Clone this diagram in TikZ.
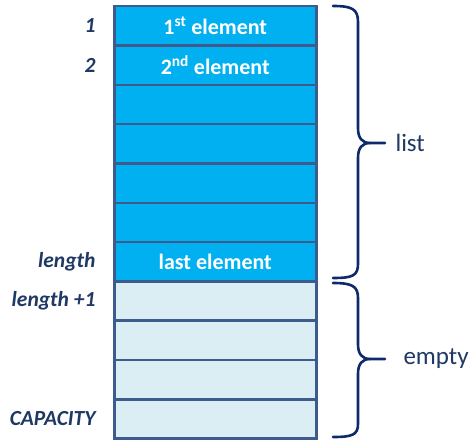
\documentclass[tikz,border=0pt]{standalone}
\usepackage{fontspec}
\setmainfont{Carlito}
\usetikzlibrary{positioning}
\definecolor{full}{HTML}{00B0F0}
\definecolor{free}{HTML}{DAEEF3}
\definecolor{edge}{HTML}{3D5B8C}
\definecolor{navy}{HTML}{1F3864}
\definecolor{bracecol}{HTML}{0E2A6A}

\begin{document}
\begin{tikzpicture}[x=1pt,y=-1pt,
  cell/.style={draw=edge,line width=2.5pt,minimum width=202pt,minimum height=39.3pt,
    anchor=north west,inner sep=0pt,text=white,font=\fontsize{22}{24}\selectfont\bfseries},
  idx/.style={anchor=east,text=navy,font=\fontsize{21.5}{24}\selectfont\bfseries\itshape},
  side/.style={anchor=west,text=navy,font=\fontsize{25}{28}\selectfont},
  brace/.style={draw=bracecol,line width=2.6pt,line cap=round}]
  \useasboundingbox (0,0) rectangle (474,444);
  % filled slots (the list)
  \foreach \i/\txt in {0/{1\textsuperscript{st}\ element},1/{2\textsuperscript{nd} element},2/{},3/{},4/{},5/{},6/{last element}}
    \node[cell,fill=full] (c\i) at (113,5+\i*39.3) {\txt};
  % free slots
  \foreach \i in {7,...,10}
    \node[cell,fill=free] (c\i) at (113,5+\i*39.3) {};
  % indices
  \node[idx,left=14pt of c0.west] (n1) {1};
  \node[idx,left=14pt of c1.west] (n2) {2};
  \node[idx,left=14pt of c6.west] (nlen) {length};
  \node[idx,left=14pt of c7.west] (nlen1) {length +1};
  \node[idx,left=14pt of c10.west] (ncap) {CAPACITY};
  % brace for the list
  \draw[brace] (333,6) .. controls (352,6) and (358,9) .. (358,22) -- (358,128)
    .. controls (358,138) and (362,143) .. (370,143) -- (385,143);
  \draw[brace] (370,143) .. controls (362,143) and (358,148) .. (358,158) -- (358,264)
    .. controls (358,276) and (352,278) .. (333,278);
  \node[side] (list) at (392,143) {list};
  % brace for the empty part
  \draw[brace] (333,283) .. controls (352,283) and (358,286) .. (358,298) -- (358,344)
    .. controls (358,354) and (362,359) .. (370,359) -- (385,359);
  \draw[brace] (370,359) .. controls (362,359) and (358,364) .. (358,374) -- (358,424)
    .. controls (358,435) and (352,437) .. (333,437);
  \node[side] (empty) at (400,359) {empty};
\end{tikzpicture}
\end{document}
